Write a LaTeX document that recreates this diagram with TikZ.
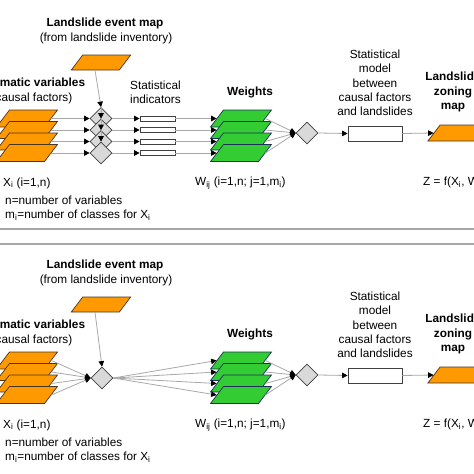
\documentclass[tikz,border=0pt]{standalone}
\usepackage{fontspec}
\setmainfont{Liberation Sans}
\usetikzlibrary{shapes.geometric,arrows.meta}
\definecolor{orng}{HTML}{FF9900}
\definecolor{grn}{HTML}{33CC33}
\definecolor{lgray}{HTML}{A8A8A8}
\definecolor{dgray}{HTML}{404040}
\definecolor{obord}{HTML}{4A3520}
\definecolor{gbord}{HTML}{1E2F5A}
\definecolor{dfill}{HTML}{D9D9D9}
\tikzset{
  lbl/.style={font=\fontsize{11.8}{14.3}\selectfont, inner sep=0pt, align=center},
  bld/.style={font=\bfseries\fontsize{11.8}{14.3}\selectfont, inner sep=0pt, align=center},
  para/.style={rectangle, xslant=0.76, minimum width=48pt, minimum height=17pt, inner sep=0pt, line width=0.7pt},
  olayer/.style={para, fill=orng, draw=obord},
  glayer/.style={para, fill=grn, draw=gbord},
  dia/.style={diamond, fill=dfill, draw=dgray, line width=0.7pt, minimum size=22pt, inner sep=0pt},
  ind/.style={rectangle, fill=white, draw=dgray, line width=0.7pt, minimum width=35pt, minimum height=5pt, inner sep=0pt},
  modelbox/.style={rectangle, fill=white, draw=dgray, line width=0.7pt, minimum width=54pt, minimum height=15pt, inner sep=0pt},
  conn/.style={draw=lgray, line width=0.8pt},
  arr/.style={conn, -{Triangle[length=5.5pt,width=5.5pt,color=black]}},
  sep/.style={draw=lgray, line width=1.2pt},
}
\newcommand\lspanel[1]{%
  \node[bld] (evt#1) at (105,23) {Landslide event map};
  \node[lbl] (inv#1) at (106,38) {(from landslide inventory)};
  \node[olayer, minimum height=15pt] (map#1) at (101,62.5) {};
  \node[lbl] (them#1) at (32,91) {\textbf{Thematic variables}\\(causal factors)};
  \foreach \i/\y in {1/118.5,2/130,3/141.5,4/153} {
    \node[olayer] (x#1\i) at (27,\y) {};
  }
  \node[bld] (wt#1) at (250,92) {Weights};
  \foreach \i/\y in {1/118.5,2/130,3/141.5,4/153} {
    \node[glayer] (w#1\i) at (241,\y) {};
  }
  \node[dia] (dm#1) at (307,133) {};
  \foreach \i in {1,...,4} {
    \draw[arr] (w#1\i.east) -- (dm#1.west);
  }
  \node[modelbox] (mod#1) at (375,133.5) {};
  \node[lbl] (modt#1) at (375,83) {Statistical\\model\\between\\causal factors\\and landslides};
  \node[olayer, minimum height=16pt] (zon#1) at (458,133) {};
  \node[bld] (zont#1) at (453,92) {Landslide\\zoning\\map};
  \draw[arr] (dm#1.east) -- (mod#1.west);
  \draw[arr] (mod#1.east) -- (zon#1.west);
  \node[lbl, anchor=west] (xl#1) at (3,183) {X\textsubscript{i} (i=1,n)};
  \node[lbl, anchor=west] (wl#1) at (195,183) {W\textsubscript{ij} (i=1,n; j=1,m\textsubscript{i})};
  \node[lbl, anchor=west] (zl#1) at (423,183) {Z = f(X\textsubscript{i}, W\textsubscript{ij})};
  \node[lbl, anchor=west, align=left] (nl#1) at (5,208) {n=number of variables\\m\textsubscript{i}=number of classes for X\textsubscript{i}};
}
\begin{document}
\begin{tikzpicture}[x=1pt,y=-1pt]
\useasboundingbox (0,0) rectangle (474,474);
\clip (0,0) rectangle (474,474);
% top panel
\lspanel{a}
\node[lbl, anchor=west, align=left] (si) at (130,92) {Statistical\\indicators};
\foreach \i/\y in {1/118.5,2/130,3/141.5,4/153} {
  \node[dia] (d\i) at (101,\y) {};
}
\foreach \i/\y in {1/118.5,2/130,3/141.5,4/153} {
  \node[ind] (r\i) at (157.5,\y) {};
  \draw[arr] (xa\i.east) -- (d\i.west);
  \draw[arr] (d\i.east) -- (r\i.west);
  \draw[arr] (r\i.east) -- (wa\i.west);
}
\draw[arr] (mapa.south) -- (d1.north);
\draw[arr] (d1.north) -- (d2.north);
\draw[arr] (d2.north) -- (d3.north);
\draw[arr] (d3.north) -- (d4.north);
% separators
\draw[sep] (0,229) -- (474,229);
\draw[sep] (0,244) -- (474,244);
% bottom panel
\begin{scope}[shift={(0,242)}]
\lspanel{b}
\node[dia] (db) at (102,136) {};
\foreach \i in {1,...,4} {
  \draw[arr] (xb\i.east) -- (db.west);
  \draw[arr] (db.east) -- (wb\i.west);
}
\draw[arr] (mapb.south) -- (db.north);
\end{scope}
\end{tikzpicture}
\end{document}
